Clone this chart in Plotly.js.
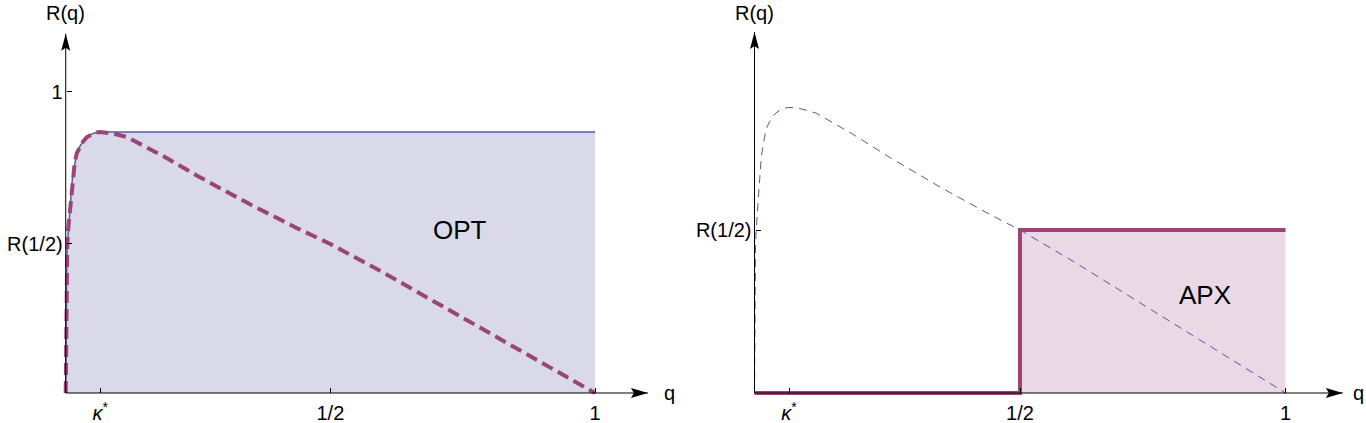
<!DOCTYPE html>
<html>
<head>
<meta charset="utf-8">
<script src="https://cdn.plot.ly/plotly-3.0.1.min.js"></script>
<style>html,body{margin:0;padding:0;background:#fff;}#chart{width:1366px;height:423px;}</style>
</head>
<body>
<div id="chart"></div>
<script>
// ---- data ----
const qValues = [0, 0.0005, 0.001, 0.002, 0.003, 0.005, 0.008, 0.013, 0.017, 0.021, 0.027, 0.033, 0.04, 0.049, 0.057, 0.065, 0.075, 0.09, 0.116, 0.15, 0.184, 0.25, 0.35, 0.44, 0.5, 0.6, 0.7, 0.8, 0.9, 1];
const rValues = [0, 0.20, 0.35, 0.45, 0.49, 0.55, 0.61, 0.72, 0.765, 0.797, 0.82, 0.836, 0.85, 0.86, 0.865, 0.867, 0.866, 0.862, 0.85, 0.818, 0.787, 0.72, 0.625, 0.545, 0.495, 0.40, 0.30, 0.20, 0.10, 0];
const kappaStar = 0.065;
const rHalf = 0.495;
const xTickValsL = [kappaStar, 0.5, 1];
const xTickTextL = ['<i>κ</i><sup>*</sup>', '1/2', '1'];
const yTickValsL = [rHalf, 1];
const yTickTextL = ['R(1/2)', '1'];
const xTickValsR = [kappaStar, 0.5, 1];
const xTickTextR = ['<i>κ</i><sup>*</sup>', '1/2', '1'];
const yTickValsR = [rHalf];
const yTickTextR = ['R(1/2)'];
const stepQ = [0, 0.5, 0.5, 1];
const stepR = [0, 0, rHalf, rHalf];

// derived: upper envelope (curve up to peak, then flat)
const rMax = Math.max(...rValues);
const envQ = [], envR = [];
qValues.forEach((v, i) => { if (v <= kappaStar) { envQ.push(v); envR.push(rValues[i]); } });
envQ.push(1); envR.push(rMax);

const FONT = 'Liberation Sans, Arial, sans-serif';
const blue = '#5a5aa6';
const lav = '#d9d9ea';
const purple = '#9b4477';
const pink = '#ead8e4';

const traces = [
  {x: envQ, y: envR, xaxis: 'x', yaxis: 'y', mode: 'lines', fill: 'tozeroy', fillcolor: lav,
   line: {color: blue, width: 1.5}, hoverinfo: 'skip'},
  {x: qValues, y: rValues, xaxis: 'x', yaxis: 'y', mode: 'lines',
   line: {color: purple, width: 4, dash: '12px,6px'}, hoverinfo: 'skip'},
  {x: [0.5, 1], y: [rHalf, rHalf], xaxis: 'x2', yaxis: 'y2', mode: 'none', fill: 'tozeroy', fillcolor: pink, hoverinfo: 'skip'},
  {x: qValues, y: rValues, xaxis: 'x2', yaxis: 'y2', mode: 'lines',
   line: {color: '#5555a8', width: 1, dash: '8px,6px'}, hoverinfo: 'skip'},
  {x: stepQ, y: stepR, xaxis: 'x2', yaxis: 'y2', mode: 'lines',
   line: {color: purple, width: 4}, hoverinfo: 'skip'}
];

const W = 1366, H = 423;
const yDom = [23 / H, 403 / H];
function axisCommon() {
  return {showgrid: false, zeroline: false, showline: false, ticks: 'inside', ticklen: 5,
          tickwidth: 1, tickcolor: '#000', tickfont: {family: FONT, size: 20, color: '#000'},
          fixedrange: true};
}
const layout = {
  width: W, height: H, margin: {l: 0, r: 0, t: 0, b: 0},
  paper_bgcolor: '#fff', plot_bgcolor: 'rgba(0,0,0,0)', showlegend: false,
  xaxis: Object.assign(axisCommon(), {domain: [60 / W, 660 / W], range: [-0.0108, 1.1228],
    anchor: 'free', position: 30 / H, tickvals: xTickValsL, ticktext: xTickTextL, ticklabelstandoff: 6}),
  yaxis: Object.assign(axisCommon(), {domain: yDom, range: [-0.0233, 1.239],
    anchor: 'free', position: 65.7 / W, tickvals: yTickValsL, ticktext: yTickTextL, ticklabelstandoff: 3}),
  xaxis2: Object.assign(axisCommon(), {domain: [745 / W, 1], range: [-0.0179, 1.1516],
    anchor: 'free', position: 30 / H, tickvals: xTickValsR, ticktext: xTickTextR, ticklabelstandoff: 6}),
  yaxis2: Object.assign(axisCommon(), {domain: yDom, range: [-0.02126, 1.1327],
    anchor: 'free', position: 754.5 / W, tickvals: yTickValsR, ticktext: yTickTextR, ticklabelstandoff: 3}),
  shapes: [],
  annotations: []
};

function addAxes(xr, yr, xTip, yTip, qShift) {
  layout.shapes.push({type: 'line', xref: xr, yref: yr, x0: 0, y0: 0, x1: xTip, y1: 0, line: {color: '#000', width: 1}, layer: 'above'});
  layout.shapes.push({type: 'line', xref: xr, yref: yr, x0: 0, y0: 0, x1: 0, y1: yTip, line: {color: '#000', width: 1}, layer: 'above'});
  layout.shapes.push({type: 'path', xref: xr, yref: yr, xsizemode: 'pixel', ysizemode: 'pixel',
    xanchor: xTip, yanchor: 0, path: 'M0,0 L-17,5 L-14,0 L-17,-5 Z', fillcolor: '#000', line: {width: 0}, layer: 'above'});
  layout.shapes.push({type: 'path', xref: xr, yref: yr, xsizemode: 'pixel', ysizemode: 'pixel',
    xanchor: 0, yanchor: yTip, path: 'M0,0 L-4.5,-17 L0,-14 L4.5,-17 Z', fillcolor: '#000', line: {width: 0}, layer: 'above'});
  layout.annotations.push({xref: xr, yref: 'paper', x: 0, y: (H - 13) / H, text: 'R(q)', showarrow: false,
    font: {family: FONT, size: 20, color: '#000'}, xanchor: 'center', yanchor: 'middle'});
  layout.annotations.push({xref: xr, yref: yr, x: xTip, y: 0, xshift: qShift, text: 'q', showarrow: false,
    font: {family: FONT, size: 20, color: '#000'}, xanchor: 'center', yanchor: 'middle'});
}
addAxes('x', 'y', 1.100, 1.193, 22);
addAxes('x2', 'y2', 1.108, 1.096, 16);

layout.annotations.push({xref: 'x', yref: 'y', x: 0.745, y: 0.54, text: 'OPT', showarrow: false,
  font: {family: FONT, size: 26, color: '#000'}});
layout.annotations.push({xref: 'x2', yref: 'y2', x: 0.848, y: 0.298, text: 'APX', showarrow: false,
  font: {family: FONT, size: 26, color: '#000'}});

Plotly.newPlot('chart', traces, layout, {displayModeBar: false, staticPlot: true});
</script>
</body>
</html>
